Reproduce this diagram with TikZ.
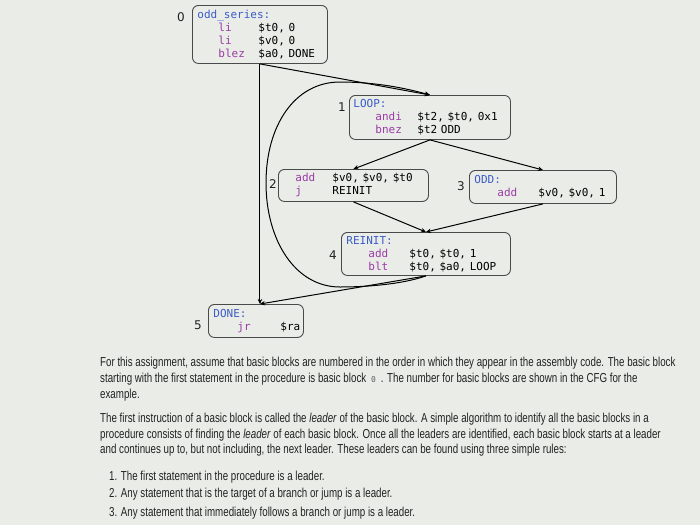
\documentclass[tikz,border=0pt]{standalone}
\usepackage{fontspec}
\setmainfont{DejaVu Sans}
\setmonofont{DejaVu Sans Mono}
\newfontfamily\bodyfont[FakeStretch=0.75]{Liberation Sans}
\usetikzlibrary{arrows.meta}
\definecolor{bg}{HTML}{EAEDE7}
\definecolor{lbl}{HTML}{3B5BC8}
\definecolor{mn}{HTML}{9A3AA6}
\definecolor{boxc}{HTML}{4A4A4A}
\definecolor{txt}{HTML}{222222}
\newcommand\lab[1]{{\color{lbl}#1}}
\newcommand\ins[4]{\hspace*{#1}\makebox[#2][l]{\color{mn}#3}#4}
\begin{document}
\begin{tikzpicture}[x=1pt,y=-1pt,
  blk/.style={draw=boxc, rounded corners=6pt, line width=0.9pt, anchor=north west,
    inner xsep=5pt, inner ysep=0pt, align=left,
    font=\ttfamily\fontsize{11}{13}\selectfont},
  num/.style={font=\fontsize{12}{12}\selectfont, text=txt, inner sep=0pt},
  edge/.style={line width=1pt, draw=black, -{Stealth[length=5pt,width=4.5pt]}},
  para/.style={anchor=base west, inner sep=0pt, text=txt,
    font=\bodyfont\fontsize{13}{16}\selectfont}]
\fill[bg] (0,0) rectangle (700,525);
\useasboundingbox (0,0) rectangle (700,525);

% blocks
\node[blk, minimum width=135pt, minimum height=58pt, text width=125pt] (b0) at (192,5)
  {\lab{odd\_series:}\\
   \ins{21pt}{40pt}{li}{\$t0, 0}\\
   \ins{21pt}{40pt}{li}{\$v0, 0}\\
   \ins{21pt}{40pt}{blez}{\$a0, DONE}};
\node[blk, minimum width=161pt, minimum height=44pt, text width=153pt, inner xsep=4pt] (b1) at (349,95)
  {\lab{LOOP:}\\
   \ins{22pt}{42pt}{andi}{\$t2, \$t0, 0x1}\\
   \ins{22pt}{42pt}{bnez}{\$t2 ODD}};
\node[blk, minimum width=150pt, minimum height=32pt, text width=142pt, inner xsep=4pt] (b2) at (278,169)
  {\ins{13pt}{37pt}{add}{\$v0, \$v0, \$t0}\\
   \ins{13pt}{37pt}{j}{REINIT}};
\node[blk, minimum width=147pt, minimum height=33pt, text width=137pt] (b3) at (469,170)
  {\lab{ODD:}\\
   \ins{23pt}{41pt}{add}{\$v0, \$v0, 1}};
\node[blk, minimum width=169pt, minimum height=43pt, text width=159pt] (b4) at (341,232)
  {\lab{REINIT:}\\
   \ins{22pt}{41pt}{add}{\$t0, \$t0, 1}\\
   \ins{22pt}{41pt}{blt}{\$t0, \$a0, LOOP}};
\node[blk, minimum width=95pt, minimum height=33pt, text width=85pt] (b5) at (208,304)
  {\lab{DONE:}\\
   \ins{24pt}{43pt}{jr}{\$ra}};

% block numbers
\node[num] (n0) at (181,17) {0};
\node[num] (n1) at (342,107) {1};
\node[num] (n2) at (273,184) {2};
\node[num] (n3) at (461,186) {3};
\node[num] (n4) at (333,255) {4};
\node[num] (n5) at (198,325) {5};

% edges
\draw[edge] (b0.south) -- (b1.north);
\draw[edge] (b0.south) -- (b0.south |- b5.north);
\draw[edge] (b1.south) -- (b2.north);
\draw[edge] (b1.south) -- (b3.north);
\draw[edge] (b2.south) -- (b4.north);
\draw[edge] (b3.south) -- (b4.north);
\draw[edge] (b4.south) -- (b0.south |- b5.north);
\draw[edge] (b4.south) .. controls (400,285) and (362,287) .. (340,287)
  .. controls (295,287) and (266,240) .. (266,183)
  .. controls (266,125) and (295,82) .. (340,82)
  .. controls (375,82) and (405,88) .. (b1.north);

% text
\node[para] (p1) at (100,366) {For this assignment, assume that basic blocks are numbered in the order in which they appear in the assembly code. The basic block};
\node[para] (p2) at (100,382) {starting with the first statement in the procedure is basic block \,{\color{gray!70!black}\ttfamily\fontsize{8}{8}\selectfont 0}\, . The number for basic blocks are shown in the CFG for the};
\node[para] (p3) at (100,398) {example.};
\node[para] (p4) at (100,422) {The first instruction of a basic block is called the \textit{leader} of the basic block. A simple algorithm to identify all the basic blocks in a};
\node[para] (p5) at (100,438) {procedure consists of finding the \textit{leader} of each basic block. Once all the leaders are identified, each basic block starts at a leader};
\node[para] (p6) at (100,453) {and continues up to, but not including, the next leader. These leaders can be found using three simple rules:};
\node[para] (l1) at (109,480) {1. The first statement in the procedure is a leader.};
\node[para] (l2) at (109,497) {2. Any statement that is the target of a branch or jump is a leader.};
\node[para] (l3) at (109,516) {3. Any statement that immediately follows a branch or jump is a leader.};
\end{tikzpicture}
\end{document}
